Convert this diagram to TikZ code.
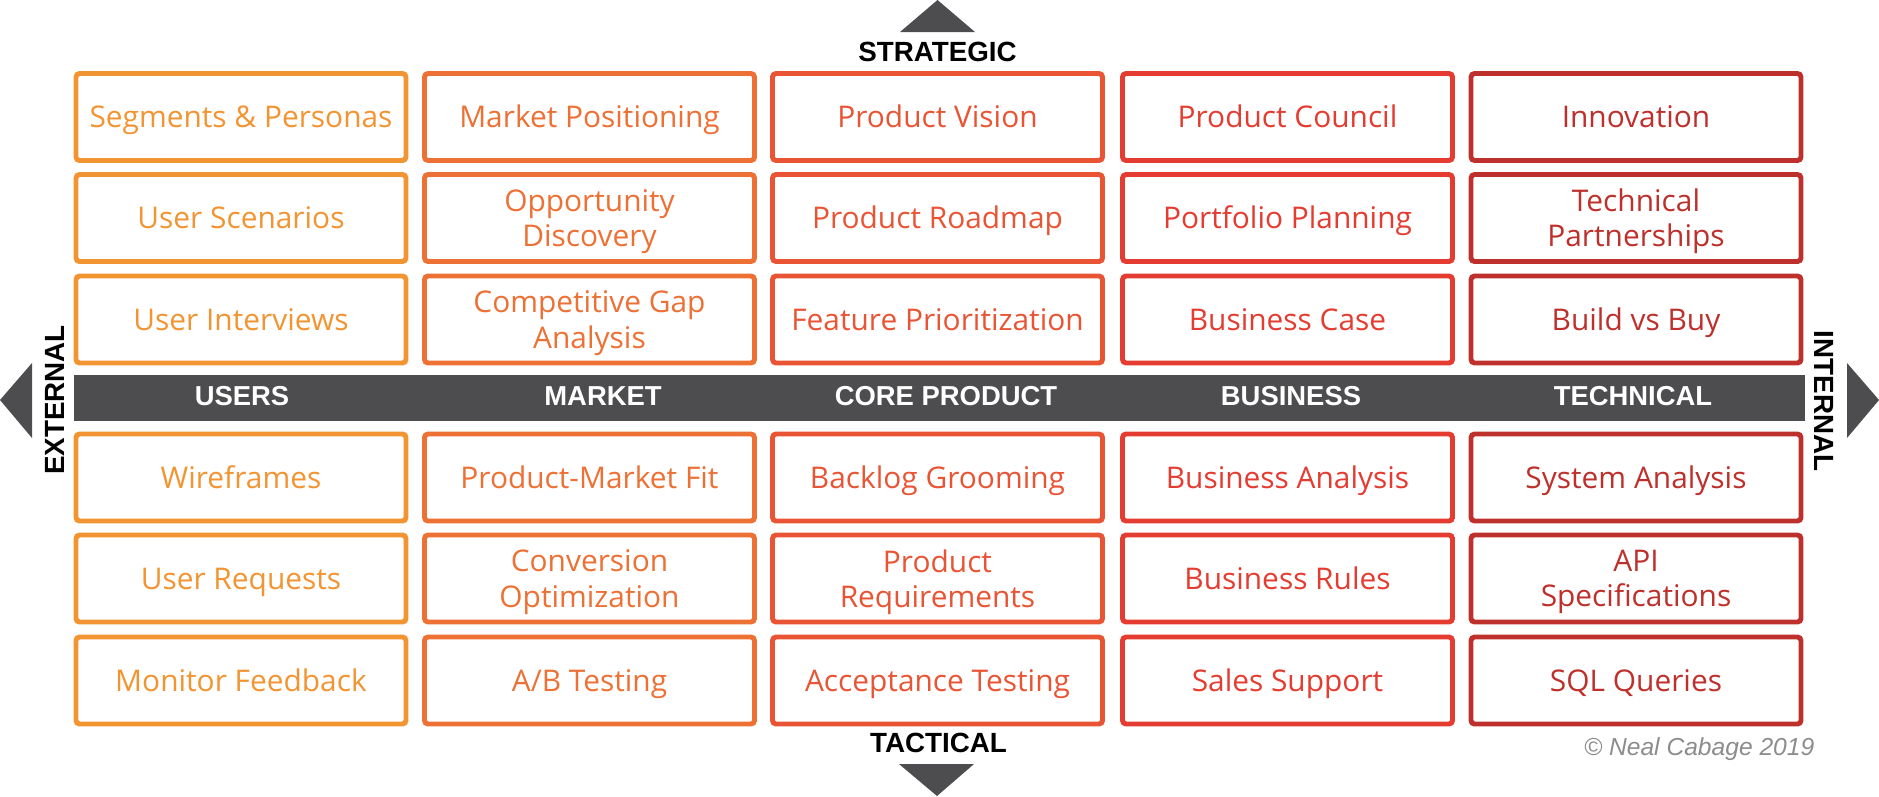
\documentclass[tikz,border=0pt]{standalone}
\usepackage{fontspec}
\setmainfont{Open Sans}
\newfontfamily\headfont{Liberation Sans}
\definecolor{usercol}{RGB}{242,148,50}
\definecolor{marketcol}{RGB}{237,112,52}
\definecolor{corecol}{RGB}{233,85,52}
\definecolor{businesscol}{RGB}{229,60,49}
\definecolor{techcol}{RGB}{190,48,43}
\definecolor{barcol}{RGB}{77,77,79}
\definecolor{notecol}{RGB}{140,140,140}

\begin{document}
\begin{tikzpicture}[
		cell/.style={draw, line width=1.4pt, rounded corners=1pt, minimum width=3.30cm, minimum height=0.87cm, inner sep=0pt, align=center, text height=6.1pt, text depth=0pt, font=\fontsize{8.5}{10}\selectfont},
		twoline/.style={text height=, text depth=0pt},
		usercell/.style={cell, draw=usercol, text=usercol},
		marketcell/.style={cell, draw=marketcol, text=marketcol},
		corecell/.style={cell, draw=corecol, text=corecol},
		businesscell/.style={cell, draw=businesscol, text=businesscol},
		techcell/.style={cell, draw=techcol, text=techcol},
		head/.style={text=white, inner sep=0pt, font=\headfont\bfseries\fontsize{7.8}{9}\selectfont},
		axislabel/.style={text=black, inner sep=0pt, font=\headfont\bfseries\fontsize{7.9}{9}\selectfont},
		note/.style={text=notecol, inner sep=0pt, font=\headfont\itshape\fontsize{7}{8}\selectfont}
	]
				\useasboundingbox (0,0) rectangle (18.79,-7.96);
				% axes
				\node[fill=barcol, minimum width=17.31cm, minimum height=0.46cm, inner sep=0pt] (bar)at(9.395, -3.98) {};
				\fill[barcol] (9.375, 0) -- (9.0, -0.32) -- (9.75, -0.32) -- cycle;
				\fill[barcol] (9.37, -7.96) -- (8.99, -7.64) -- (9.74, -7.64) -- cycle;
				\fill[barcol] (0, -4.0) -- (0.32, -3.63) -- (0.32, -4.38) -- cycle;
				\fill[barcol] (18.79, -4.0) -- (18.47, -3.63) -- (18.47, -4.38) -- cycle;
				\node[axislabel] (S)at(9.375, -0.515) {STRATEGIC};
				\node[axislabel] (Tc)at(9.385, -7.425) {TACTICAL};
				\node[axislabel, rotate=90] (X)at(0.55, -4.0) {EXTERNAL};
				\node[axislabel, rotate=-90] (I)at(18.24, -4.01) {INTERNAL};
				\node[head] (HU)at(2.42, -3.965) {USERS};
				\node[head] (HM)at(6.03, -3.965) {MARKET};
				\node[head] (HC)at(9.46, -3.965) {CORE PRODUCT};
				\node[head] (HB)at(12.91, -3.965) {BUSINESS};
				\node[head] (HT)at(16.33, -3.965) {TECHNICAL};
				% users
				\node[usercell] (U1)at(2.41, -1.17) {Segments \& Personas};
				\node[usercell] (U2)at(2.41, -2.18) {User Scenarios};
				\node[usercell] (U3)at(2.41, -3.195) {User Interviews};
				\node[usercell] (U4)at(2.41, -4.775) {Wireframes};
				\node[usercell] (U5)at(2.41, -5.785) {User Requests};
				\node[usercell] (U6)at(2.41, -6.805) {Monitor Feedback};
				% market
				\node[marketcell] (M1)at(5.895, -1.17) {Market Positioning};
				\node[marketcell, twoline] (M2)at(5.895, -2.18) {Opportunity\\Discovery};
				\node[marketcell, twoline] (M3)at(5.895, -3.195) {Competitive Gap\\Analysis};
				\node[marketcell] (M4)at(5.895, -4.775) {Product-Market Fit};
				\node[marketcell, twoline] (M5)at(5.895, -5.785) {Conversion\\Optimization};
				\node[marketcell] (M6)at(5.895, -6.805) {A/B Testing};
				% core product
				\node[corecell] (C1)at(9.375, -1.17) {Product Vision};
				\node[corecell] (C2)at(9.375, -2.18) {Product Roadmap};
				\node[corecell] (C3)at(9.375, -3.195) {Feature Prioritization};
				\node[corecell] (C4)at(9.375, -4.775) {Backlog Grooming};
				\node[corecell, twoline] (C5)at(9.375, -5.785) {Product\\Requirements};
				\node[corecell] (C6)at(9.375, -6.805) {Acceptance Testing};
				% business
				\node[businesscell] (B1)at(12.875, -1.17) {Product Council};
				\node[businesscell] (B2)at(12.875, -2.18) {Portfolio Planning};
				\node[businesscell] (B3)at(12.875, -3.195) {Business Case};
				\node[businesscell] (B4)at(12.875, -4.775) {Business Analysis};
				\node[businesscell] (B5)at(12.875, -5.785) {Business Rules};
				\node[businesscell] (B6)at(12.875, -6.805) {Sales Support};
				% technical
				\node[techcell] (T1)at(16.36, -1.17) {Innovation};
				\node[techcell, twoline] (T2)at(16.36, -2.18) {Technical\\Partnerships};
				\node[techcell] (T3)at(16.36, -3.195) {Build vs Buy};
				\node[techcell] (T4)at(16.36, -4.775) {System Analysis};
				\node[techcell, twoline] (T5)at(16.36, -5.785) {API\\Specifications};
				\node[techcell] (T6)at(16.36, -6.805) {SQL Queries};
				\node[note, anchor=east] (N)at(18.15, -7.49) {© Neal Cabage 2019};
			\end{tikzpicture}
\end{document}
